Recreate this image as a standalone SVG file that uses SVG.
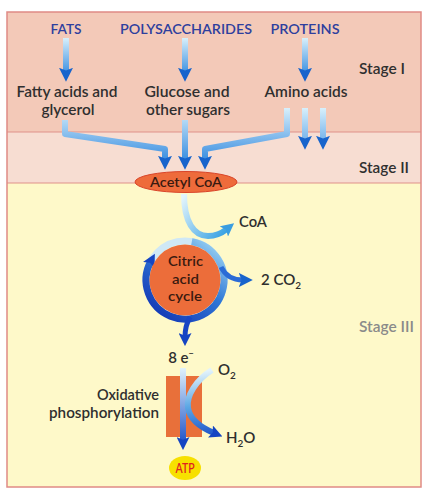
<svg xmlns="http://www.w3.org/2000/svg" width="439" height="500" viewBox="0 0 439 500">
<style>
text{font-family:Lato,"Open Sans","Liberation Sans",sans-serif;font-size:15px;font-weight:600;fill:#2f2f2f}
.mol{fill:#2e3f9e;text-anchor:middle;font-size:14px}
.mid{text-anchor:middle}
.stem{fill:none;stroke-width:6;stroke-linejoin:round}
.in{fill:#3a1a10;font-size:14px;text-anchor:middle}
</style>
<defs>
<linearGradient id="g1" gradientUnits="userSpaceOnUse" x1="0" y1="38" x2="0" y2="74"><stop offset="0" stop-color="#d8f0fc"/><stop offset="1" stop-color="#3a8ee0"/></linearGradient>
<linearGradient id="g2" gradientUnits="userSpaceOnUse" x1="0" y1="108" x2="0" y2="160"><stop offset="0" stop-color="#d8f0fc"/><stop offset="1" stop-color="#3a8ee0"/></linearGradient>
<linearGradient id="gCoA" gradientUnits="userSpaceOnUse" x1="184" y1="196" x2="228" y2="230"><stop offset="0" stop-color="#e2f4fc"/><stop offset="1" stop-color="#3aa2e3"/></linearGradient>
<linearGradient id="gRing" gradientUnits="userSpaceOnUse" x1="215" y1="242" x2="155" y2="318"><stop offset="0" stop-color="#9cd4f3"/><stop offset="0.45" stop-color="#2f78d6"/><stop offset="1" stop-color="#1235b3"/></linearGradient>
<linearGradient id="gE" gradientUnits="userSpaceOnUse" x1="0" y1="368" x2="0" y2="445"><stop offset="0" stop-color="#e0f2fb"/><stop offset="1" stop-color="#1a4fc8"/></linearGradient>
<linearGradient id="gO" gradientUnits="userSpaceOnUse" x1="212" y1="370" x2="222" y2="436"><stop offset="0" stop-color="#e3f3fb"/><stop offset="0.5" stop-color="#5aa6e4"/><stop offset="1" stop-color="#1a4fc8"/></linearGradient>
<marker id="ah" viewBox="0 0 10 10" refX="3" refY="5" markerUnits="userSpaceOnUse" markerWidth="14" markerHeight="15" orient="auto"><path d="M0,0 L10,5 L0,10 L2,5 z" fill="#1864cc"/></marker>
<marker id="ahL" viewBox="0 0 10 10" refX="3" refY="5" markerUnits="userSpaceOnUse" markerWidth="13" markerHeight="13" orient="auto"><path d="M0,0 L10,5 L0,10 L2,5 z" fill="#3a9de0"/></marker>
<marker id="ahD" viewBox="0 0 10 10" refX="3" refY="5" markerUnits="userSpaceOnUse" markerWidth="13" markerHeight="13" orient="auto"><path d="M0,0 L10,5 L0,10 L2,5 z" fill="#1545c2"/></marker>
</defs>

<g id="bands">
<rect x="7" y="12" width="414" height="120" fill="#f3c9b8"/>
<rect x="7" y="132" width="414" height="51" fill="#f7ddd2"/>
<rect x="7" y="183" width="414" height="304" fill="#fef9c9"/>
<line x1="7" y1="132" x2="421" y2="132" stroke="#e0918a" stroke-width="1.2"/>
<line x1="7" y1="183" x2="421" y2="183" stroke="#e0918a" stroke-width="1.2"/>
<rect x="7" y="12" width="414" height="475" fill="none" stroke="#e08a85" stroke-width="1.5"/>
</g>

<g id="stage-labels">
<text x="359" y="74" textLength="46" lengthAdjust="spacingAndGlyphs">Stage I</text>
<text x="359" y="173" textLength="50" lengthAdjust="spacingAndGlyphs">Stage II</text>
<text x="359" y="332" textLength="55" lengthAdjust="spacingAndGlyphs" style="fill:#8a8a8a">Stage III</text>
</g>

<g id="fats"><text class="mol" x="66" y="34" textLength="31" lengthAdjust="spacingAndGlyphs">FATS</text></g>
<g id="polysaccharides"><text class="mol" x="186" y="34" textLength="132" lengthAdjust="spacingAndGlyphs">POLYSACCHARIDES</text></g>
<g id="proteins"><text class="mol" x="305" y="34" textLength="69" lengthAdjust="spacingAndGlyphs">PROTEINS</text></g>

<g id="fatty-acids"><text class="mid" x="67" y="97" textLength="101" lengthAdjust="spacingAndGlyphs">Fatty acids and</text><text class="mid" x="68" y="115" textLength="53" lengthAdjust="spacingAndGlyphs">glycerol</text></g>
<g id="glucose"><text class="mid" x="187" y="97" textLength="85" lengthAdjust="spacingAndGlyphs">Glucose and</text><text class="mid" x="188" y="115" textLength="84" lengthAdjust="spacingAndGlyphs">other sugars</text></g>
<g id="amino-acids"><text class="mid" x="306" y="97" textLength="83" lengthAdjust="spacingAndGlyphs">Amino acids</text></g>

<g id="connectors">
<path class="stem" d="M66,38 V72" stroke="url(#g1)" marker-end="url(#ah)"/>
<path class="stem" d="M185,38 V72" stroke="url(#g1)" marker-end="url(#ah)"/>
<path class="stem" d="M305,38 V72" stroke="url(#g1)" marker-end="url(#ah)"/>
<path class="stem" d="M65,120 V134 L165,149 V160" stroke="url(#g2)" marker-end="url(#ah)"/>
<path class="stem" d="M185,120 V160" stroke="url(#g2)" marker-end="url(#ah)"/>
<path class="stem" d="M287,108 V134 L205,149 V160" stroke="url(#g2)" marker-end="url(#ah)"/>
<path class="stem" d="M305,108 V140" stroke="url(#g2)" marker-end="url(#ah)"/>
<path class="stem" d="M323,108 V140" stroke="url(#g2)" marker-end="url(#ah)"/>

<circle cx="185" cy="280" r="39" fill="none" stroke="#cfe8f6" stroke-width="7"/>
<path d="M191.8,241.6 A39,39 0 1 1 150.6,261.7" fill="none" stroke="url(#gRing)" stroke-width="7" marker-end="url(#ahD)"/>
<path d="M184,194 C184,222 194,236 208,236 C216,236 222,233 227,229" fill="none" stroke="url(#gCoA)" stroke-width="6" marker-end="url(#ahL)"/>
<path d="M221,267 C226,277 234,280 243,280" fill="none" stroke="#2b6bd6" stroke-width="5" marker-end="url(#ah)"/>
<path d="M190,317 C186,324 185,330 185,337" fill="none" stroke="#1845c4" stroke-width="5" marker-end="url(#ahD)"/>
</g>

<g id="acetyl-coa">
<ellipse cx="186" cy="182" rx="51" ry="10.5" fill="#ee6b3b" stroke="#d9452a" stroke-width="1"/>
<text class="in" x="186" y="187" textLength="72" lengthAdjust="spacingAndGlyphs">Acetyl CoA</text>
</g>

<g id="coa"><text x="239" y="227" textLength="28" lengthAdjust="spacingAndGlyphs">CoA</text></g>

<g id="citric-acid-cycle">
<circle cx="185" cy="280" r="35.5" fill="#ec6d3a"/>
<text class="in" x="185.5" y="266" textLength="35" lengthAdjust="spacingAndGlyphs">Citric</text>
<text class="in" x="185.5" y="284" textLength="27" lengthAdjust="spacingAndGlyphs">acid</text>
<text class="in" x="185" y="301" textLength="34" lengthAdjust="spacingAndGlyphs">cycle</text>
</g>

<g id="co2"><text x="261" y="285">2 CO<tspan font-size="10" dy="4">2</tspan></text></g>

<g id="electrons"><text class="mid" x="181" y="363">8 e<tspan font-size="9" dy="-6">−</tspan></text></g>

<g id="oxidative-phosphorylation">
<rect x="166" y="376" width="36" height="61" fill="#e8703a"/>
<text x="159" y="400" text-anchor="end" textLength="62" lengthAdjust="spacingAndGlyphs">Oxidative</text>
<text x="159" y="418" text-anchor="end" textLength="110" lengthAdjust="spacingAndGlyphs">phosphorylation</text>
</g>

<g id="o2"><text x="218" y="375">O<tspan font-size="10" dy="4">2</tspan></text></g>
<g id="h2o"><text x="226" y="443">H<tspan font-size="10" dy="4">2</tspan><tspan dy="-4">O</tspan></text></g>

<g id="connectors-oxphos">
<path d="M183,368 V441" fill="none" stroke="url(#gE)" stroke-width="6" marker-end="url(#ahD)"/>
<path d="M212,370 C196,380 186,396 188,408 C190,420 202,428 214,433" fill="none" stroke="url(#gO)" stroke-width="6" marker-end="url(#ahD)"/>
</g>

<g id="atp">
<ellipse cx="185" cy="468" rx="16" ry="12" fill="#f7e000"/>
<text x="185" y="473" text-anchor="middle" textLength="19" lengthAdjust="spacingAndGlyphs" style="fill:#e02020;font-size:14px">ATP</text>
</g>
</svg>
